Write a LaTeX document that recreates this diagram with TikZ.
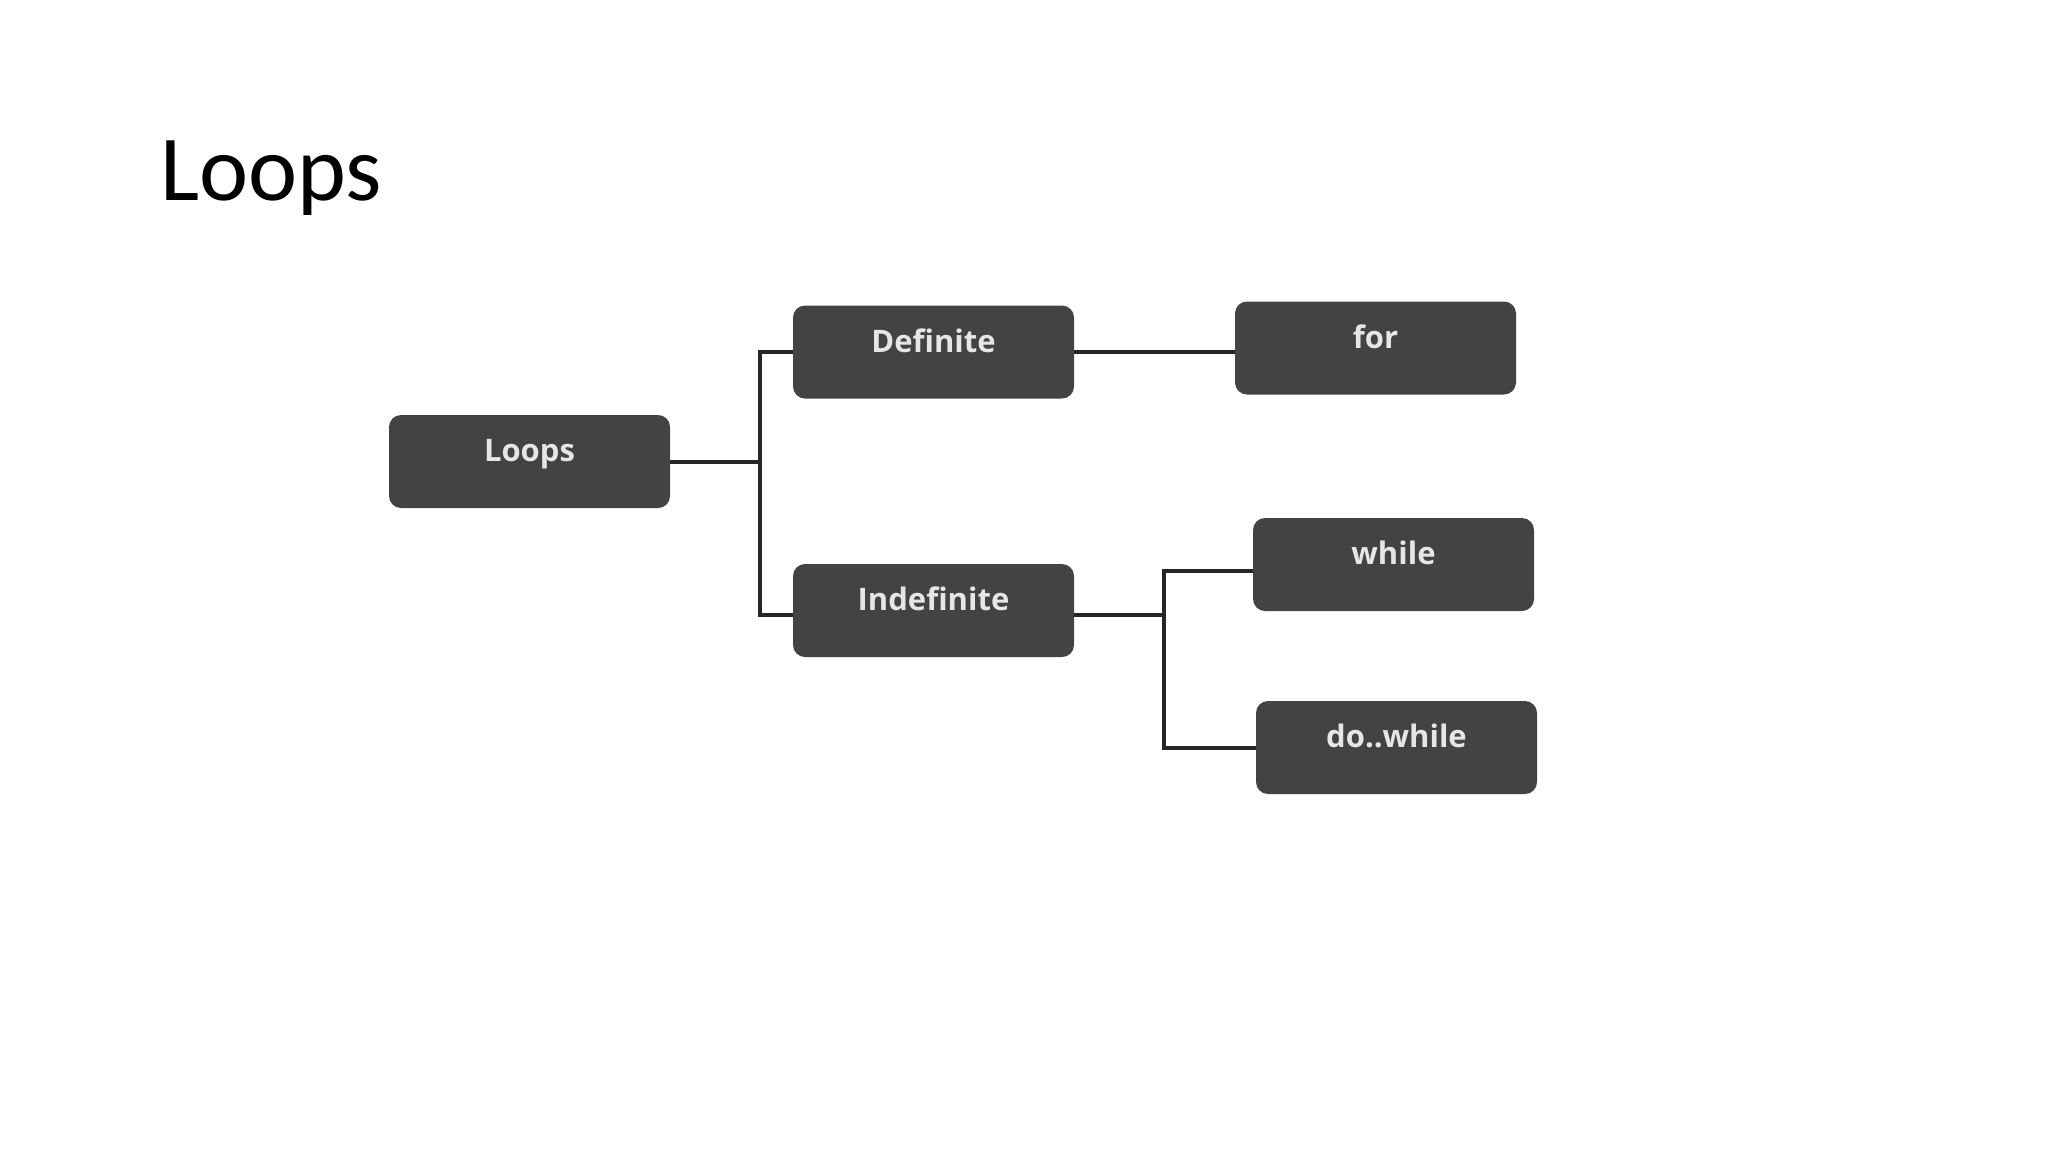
\documentclass[tikz,border=0pt]{standalone}
\usepackage{fontspec}
\setmainfont{Open Sans}
\newfontfamily\titlefont{Carlito}
\begin{document}
\begin{tikzpicture}[x=0.5pt,y=-0.5pt,
  box/.style={rectangle, rounded corners=6pt, fill=boxgray, draw=none,
    minimum width=140.5pt, minimum height=46.5pt, inner sep=0pt,
    text=boxtext, font=\fontsize{15.5}{18}\selectfont\bfseries,
    text height=9pt, text depth=9pt},
  link/.style={line width=2pt, draw=black!85}]
\definecolor{boxgray}{HTML}{434346}
\definecolor{boxtext}{HTML}{E6E6E6}
\fill[white] (0,0) rectangle (2048,1152);
\useasboundingbox (0,0) rectangle (2048,1152);
\node[anchor=base west, inner sep=0pt, font=\titlefont\fontsize{46.5}{52}\selectfont] (title) at (160,200) {Loops};
\node[box] (loops) at (529.5,461.5) {Loops};
\node[box] (def) at (933.5,352) {Definite};
\node[box] (for) at (1375.5,348) {for};
\node[box] (indef) at (933.5,610.5) {Indefinite};
\node[box] (while) at (1393.5,564.5) {while};
\node[box] (dowhile) at (1396.5,747.5) {do..while};
\draw[link] (loops.east) -- ++(90,0) coordinate (j1);
\draw[link] (def.west) -| (j1) |- ([yshift=-2pt]indef.west);
\draw[link] (def.east) -- (def.east -| for.west);
\draw[link] ([yshift=-2pt]indef.east) -- ++(90,0) coordinate (j2);
\draw[link] ([yshift=-3pt]while.west) -| (j2) |- (dowhile.west);
\end{tikzpicture}
\end{document}
